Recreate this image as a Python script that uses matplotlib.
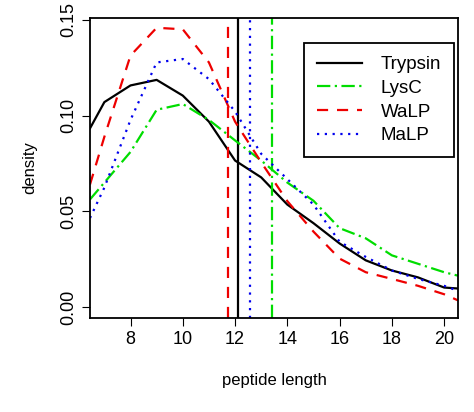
import matplotlib
matplotlib.use('Agg')
import matplotlib.pyplot as plt

plt.rcParams['font.family'] = ['Liberation Sans', 'DejaVu Sans']

x = [6.45, 7, 8, 9, 10, 11, 12, 13, 14, 15, 16, 17, 18, 19, 20, 20.53]
trypsin = [0.0933, 0.107, 0.1157, 0.1186, 0.1104, 0.0968, 0.0765, 0.0677, 0.0535, 0.0438, 0.0332, 0.0244, 0.0191, 0.0155, 0.0102, 0.0097]
lysc = [0.0562, 0.065, 0.081, 0.103, 0.106, 0.0977, 0.087, 0.0765, 0.065, 0.0555, 0.0412, 0.0359, 0.027, 0.0226, 0.0182, 0.0164]
walp = [0.064, 0.0889, 0.1313, 0.1458, 0.145, 0.1277, 0.0968, 0.0756, 0.0553, 0.0394, 0.0253, 0.0182, 0.0147, 0.0111, 0.0067, 0.0035]
malp = [0.0465, 0.0624, 0.0977, 0.1277, 0.1295, 0.119, 0.1021, 0.080, 0.0668, 0.0535, 0.0341, 0.0262, 0.0191, 0.0147, 0.0111, 0.0085]
names = ['Trypsin', 'LysC', 'WaLP', 'MaLP']
means = [12.12, 13.41, 11.73, 12.57]
colors = ['black', '#00dd00', '#ee0000', '#0000ee']
styles = ['-', (0, (6, 2, 1, 2)), (0, (5, 4)), (0, (1, 2.5))]

fig = plt.figure(figsize=(4.74, 4.12), dpi=100)
ax = fig.add_axes([90 / 474, 94 / 412, 368 / 474, 300 / 412])

for ys, name, m, c, ls in zip([trypsin, lysc, walp, malp], names, means, colors, styles):
    ax.plot(x, ys, color=c, ls=ls, lw=1.6, label=name)
    ax.axvline(m, color=c, ls=ls, lw=1.6)

ax.set_xlim(6.45, 20.53)
ax.set_ylim(-0.0057, 0.1509)
ax.set_xticks([8, 10, 12, 14, 16, 18, 20])
ax.set_yticks([0, 0.05, 0.10, 0.15])
ax.set_yticklabels(['0.00', '0.05', '0.10', '0.15'], rotation=90, va='center')
ax.tick_params(labelsize=13, length=6)
ax.set_xlabel('peptide length', fontsize=12, labelpad=18)
ax.set_ylabel('density', fontsize=12, labelpad=16)
for s in ax.spines.values():
    s.set_linewidth(1.3)

leg = ax.legend(loc='upper right', bbox_to_anchor=(0.99, 0.917), fontsize=13.5,
                fancybox=False, framealpha=1, edgecolor='black', handlelength=2.4,
                borderpad=0.7, labelspacing=0.35, handletextpad=1.0,
                borderaxespad=0)
leg.get_frame().set_linewidth(1.3)

fig.savefig('out.png', dpi=100)
